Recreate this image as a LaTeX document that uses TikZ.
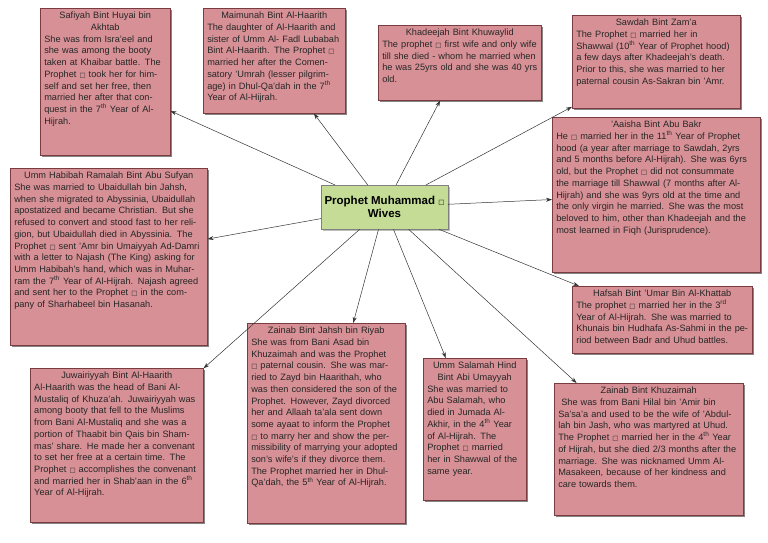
\documentclass[tikz,border=0pt]{standalone}
\usepackage{fontspec}
\setmainfont{Liberation Sans}
\newfontfamily\dejavu{DejaVu Sans}
\usetikzlibrary{shadows,arrows.meta}
\newcommand\sq{{\dejavu\fontsize{6.5}{6}\selectfont □}}
\newcommand\ts[1]{\textsuperscript{#1}}
\definecolor{pinkbox}{RGB}{215,145,150}
\definecolor{pinkline}{RGB}{120,60,65}
\definecolor{greenbox}{RGB}{197,220,150}
\tikzset{
 wifebox/.style={draw=pinkline,line width=0.5pt,fill=pinkbox,inner sep=0pt,
   drop shadow={shadow xshift=2pt,shadow yshift=-2pt,fill=black!60,opacity=0.8}},
 wtxt/.style={inner sep=0pt,align=left,font=\fontsize{9.2}{11.7}\selectfont,text=black!85},
 conn/.style={-{Stealth[length=6pt,width=4pt]},line width=0.5pt,black!80}
}
\newcommand\wbox[6]{%
 \node[wifebox,anchor=north west,minimum width={#4pt-#2pt},minimum height={#5pt-#3pt}] (#1) at (#2,#3) {};
 \begin{scope}\clip ([yshift=-1pt]#1.north west) rectangle ([yshift=6pt]#1.south east);
 \node[wtxt,anchor=north,text width={#4pt-#2pt-8pt}] at ([yshift=-4pt]#1.north) {\hyphenpenalty=10000 \exhyphenpenalty=10000 #6};\end{scope}}
\begin{document}
\begin{tikzpicture}[x=1pt,y=-1pt]
\useasboundingbox (0,0) rectangle (768,543);
\wbox{saf}{40}{8}{170}{155}{{\centering Safiyah Bint Huyai bin Akhtab\par}She was from Isra'eel and she was among the booty taken at Khaibar battle. The Prophet \sq\ took her for himself and set her free, then married her after that conquest in the 7\ts{th} Year of Al-Hijrah.}
\wbox{mai}{203}{8}{345}{113}{{\centering Maimunah Bint Al-Haarith\par}The daughter of Al-Haarith and sister of Umm Al- Fadl Lubabah Bint Al-Haarith. The Prophet \sq\ married her after the Comensatory 'Umrah (lesser pilgrimage) in Dhul-Qa'dah in the 7\ts{th} Year of Al-Hijrah.}
\wbox{kha}{378}{25}{541}{100}{{\centering Khadeejah Bint Khuwaylid\par}The prophet \sq\ first wife and only wife till she died - whom he married when he was 25yrs old and she was 40 yrs old.}
\wbox{saw}{572}{15}{740}{108}{{\centering Sawdah Bint Zam'a\par}The Prophet \sq\ married her in Shawwal (10\ts{th} Year of Prophet hood) a few days after Khadeejah's death. Prior to this, she was married to her paternal cousin As-Sakran bin 'Amr.}
\wbox{aai}{552}{117}{760}{272}{{\centering 'Aaisha Bint Abu Bakr\par}He \sq\ married her in the 11\ts{th} Year of Prophet hood (a year after marriage to Sawdah, 2yrs and 5 months before Al-Hijrah). She was 6yrs old, but the Prophet \sq\ did not consummate the marriage till Shawwal (7 months after Al-Hijrah) and she was 9yrs old at the time and the only virgin he married. She was the most beloved to him, other than Khadeejah and the most learned in Fiqh (Jurisprudence).}
\wbox{hab}{10}{168}{207}{345}{{\centering Umm Habibah Ramalah Bint Abu Sufyan\par}She was married to Ubaidullah bin Jahsh, when she migrated to Abyssinia, Ubaidullah apostatized and became Christian. But she refused to convert and stood fast to her religion, but Ubaidullah died in Abyssinia. The Prophet \sq\ sent 'Amr bin Umaiyyah Ad-Damri with a letter to Najash (The King) asking for Umm Habibah's hand, which was in Muharram the 7\ts{th} Year of Al-Hijrah. Najash agreed and sent her to the Prophet \sq\ in the company of Sharhabeel bin Hasanah.}
\wbox{haf}{572}{286}{752}{353}{{\centering Hafsah Bint 'Umar Bin Al-Khattab\par}The prophet \sq\ married her in the 3\ts{rd} Year of Al-Hijrah. She was married to Khunais bin Hudhafa As-Sahmi in the period between Badr and Uhud battles.}
\wbox{zja}{247}{323}{405}{523}{{\centering Zainab Bint Jahsh bin Riyab\par}She was from Bani Asad bin Khuzaimah and was the Prophet \sq\ paternal cousin. She was married to Zayd bin Haarithah, who was then considered the son of the Prophet. However, Zayd divorced her and Allaah ta'ala sent down some ayaat to inform the Prophet \sq\ to marry her and show the permissibility of marrying your adopted son's wife's if they divorce them. The Prophet married her in Dhul-Qa'dah, the 5\ts{th} Year of Al-Hijrah.}
\wbox{sal}{423}{358}{526}{500}{{\centering Umm Salamah Hind Bint Abi Umayyah\par}She was married to Abu Salamah, who died in Jumada Al-Akhir, in the 4\ts{th} Year of Al-Hijrah. The Prophet \sq\ married her in Shawwal of the same year.}
\wbox{zkh}{554}{383}{743}{515}{{\centering Zainab Bint Khuzaimah\par}\hspace*{3pt}She was from Bani Hilal bin 'Amir bin Sa'sa'a and used to be the wife of 'Abdullah bin Jash, who was martyred at Uhud. The Prophet \sq\ married her in the 4\ts{th} Year of Hijrah, but she died 2/3 months after the marriage. She was nicknamed Umm Al-Masakeen, because of her kindness and care towards them.}
\wbox{juw}{30}{368}{203}{522}{{\centering Juwairiyyah Bint Al-Haarith\par}Al-Haarith was the head of Bani Al-Mustaliq of Khuza'ah. Juwairiyyah was among booty that fell to the Muslims from Bani Al-Mustaliq and she was a portion of Thaabit bin Qais bin Shammas' share. He made her a convenant to set her free at a certain time. The Prophet \sq\ accomplishes the convenant and married her in Shab'aan in the 6\ts{th} Year of Al-Hijrah.}
\node[draw=black!50,fill=greenbox,anchor=north west,minimum width=112pt,minimum height=44pt,align=center,
  font=\bfseries\fontsize{11.5}{13}\selectfont,
  drop shadow={shadow xshift=2pt,shadow yshift=-2pt,fill=black!50}] (c) at (321,185) {Prophet Muhammad \sq\\Wives};
\foreach \t in {saf,mai,kha,saw,aai,hab,haf,zja,sal,zkh,juw} \draw[conn] (c) -- (\t);
\end{tikzpicture}
\end{document}
